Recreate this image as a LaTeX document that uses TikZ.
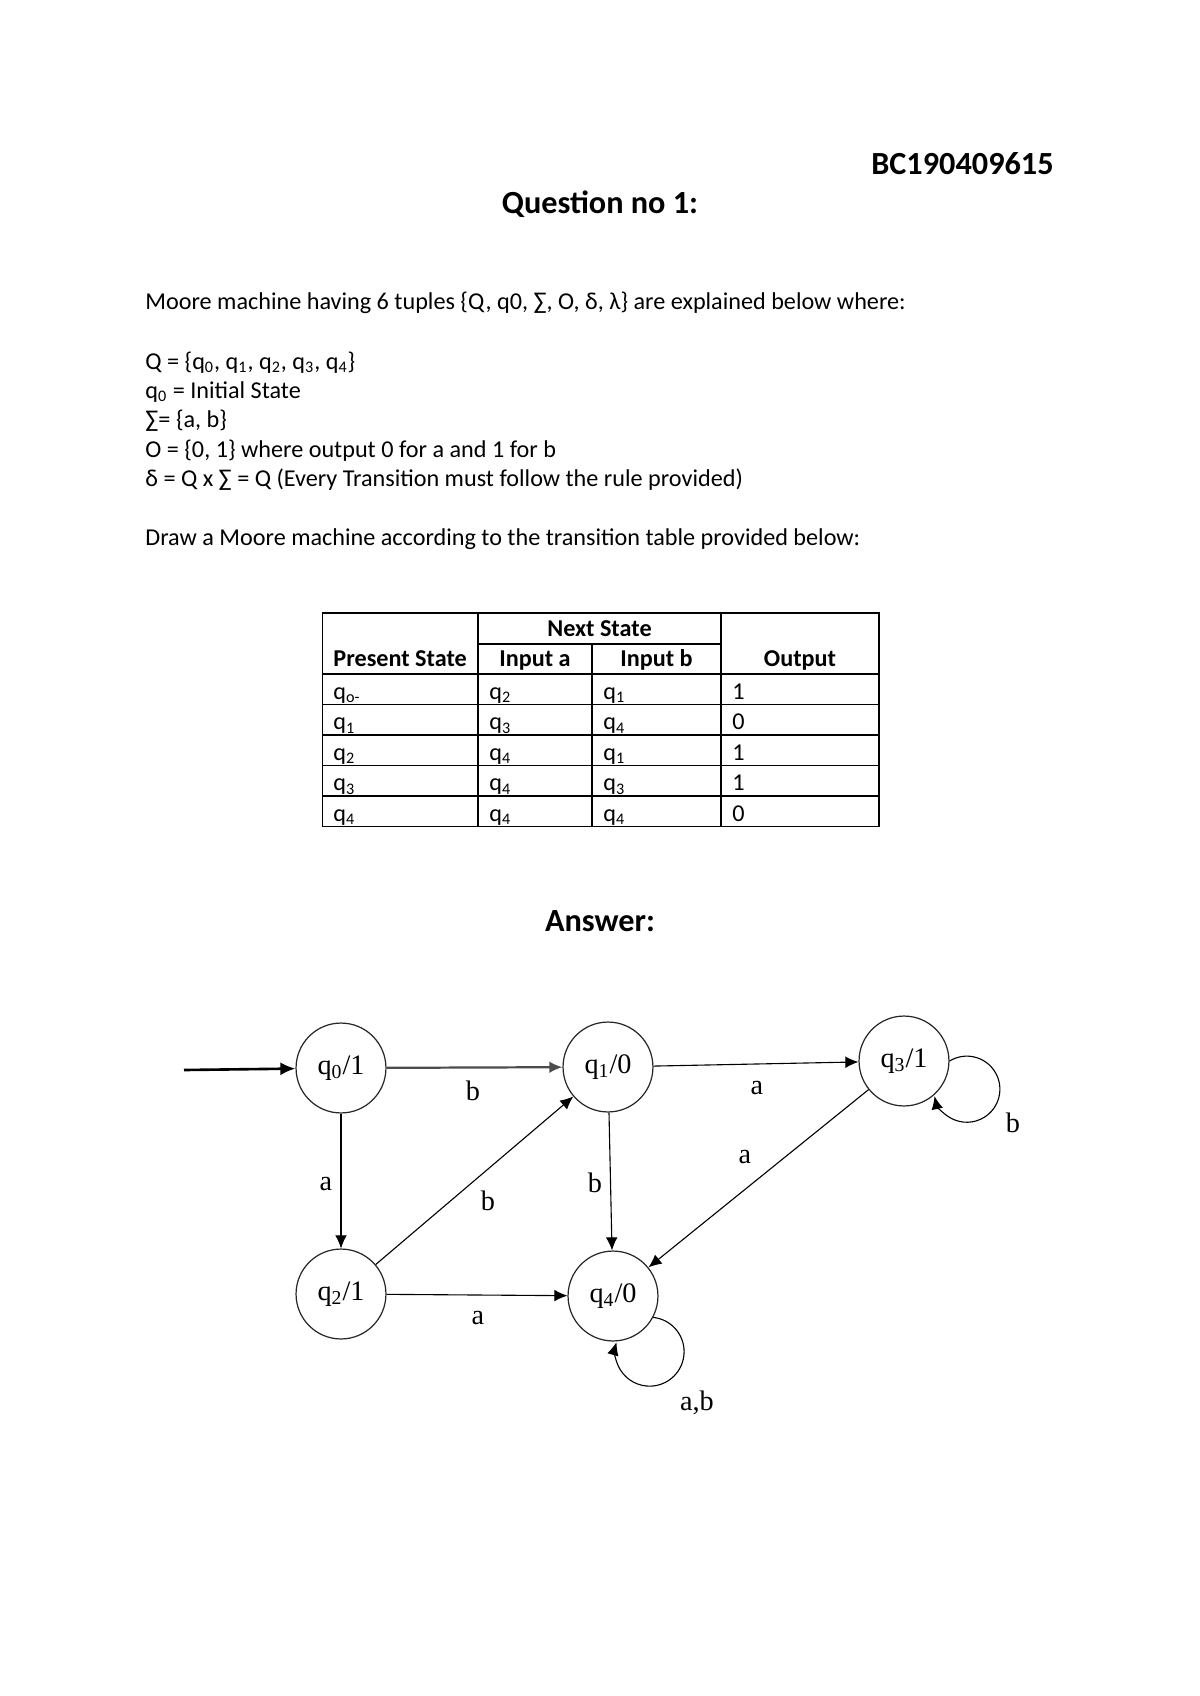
\documentclass[tikz,border=0pt]{standalone}
\usepackage{fontspec}
\setmainfont{Carlito}
\newfontfamily\diagserif{Liberation Serif}
\usetikzlibrary{arrows.meta}
\tikzset{
  tbody/.style={font=\fontsize{12}{14.6}\selectfont, inner sep=0pt, anchor=base west},
  thead/.style={font=\bfseries\fontsize{16}{19.5}\selectfont, inner sep=0pt},
  tcell/.style={font=\fontsize{12}{14.6}\selectfont, inner sep=0pt, anchor=base west},
  thcell/.style={font=\bfseries\fontsize{12}{14.6}\selectfont, inner sep=0pt, anchor=base},
  tline/.style={line width=0.8pt},
  mstate/.style={circle, draw=black!85, line width=0.6pt, minimum size=44.6pt, inner sep=0pt, font=\diagserif\fontsize{14}{16}\selectfont},
  arr/.style={-{Latex[length=6.5pt,width=5.8pt]}, line width=0.55pt},
  lbl/.style={font=\diagserif\fontsize{14}{16}\selectfont, inner sep=0pt},
}
\begin{document}
\begin{tikzpicture}[x=0.49606pt,y=-0.49606pt]
\useasboundingbox (0,0) rectangle (1200,1696);

% headings
\node[thead, anchor=base east] (id) at (1054,174) {BC190409615};
\node[thead, anchor=base] (title) at (600,213) {Question no 1:};

% body text
\node[tbody] (l1) at (145,309.5) {Moore machine having 6 tuples \{Q, q0, ∑, O, δ, λ\} are explained below where:};
\node[tbody] (l2) at (145,369) {Q = \{q\textsubscript{0}, q\textsubscript{1}, q\textsubscript{2}, q\textsubscript{3}, q\textsubscript{4}\}};
\node[tbody] (l3) at (145,398) {q\textsubscript{0} = Initial State};
\node[tbody] (l4) at (145,427.5) {∑= \{a, b\}};
\node[tbody] (l5) at (145,457) {O = \{0, 1\} where output 0 for a and 1 for b};
\node[tbody] (l6) at (145,486) {δ = Q x ∑ = Q (Every Transition must follow the rule provided)};
\node[tbody] (l7) at (145,545.5) {Draw a Moore machine according to the transition table provided below:};

% table grid
\draw[tline] (322.5,613) rectangle (879,826.5);
\draw[tline] (478,613) -- (478,826.5);
\draw[tline] (721,613) -- (721,826.5);
\draw[tline] (592,644) -- (592,826.5);
\draw[tline] (478,644) -- (721,644);
\foreach \yy in {674,704.5,735,765.5,796} \draw[tline] (322.5,\yy) -- (879,\yy);

% table header
\node[thcell] (hns) at (599.5,636) {Next State};
\node[thcell, anchor=base west] (hps) at (333,666) {Present State};
\node[thcell] (hia) at (535,666) {Input a};
\node[thcell] (hib) at (656.5,666) {Input b};
\node[thcell] (hout) at (800,666) {Output};

% table rows
\node[tcell] (r1a) at (333,699) {q\textsubscript{o-}};
\node[tcell] (r1b) at (489,699) {q\textsubscript{2}};
\node[tcell] (r1c) at (603,699) {q\textsubscript{1}};
\node[tcell] (r1d) at (732,699) {1};
\node[tcell] (r2a) at (333,729.5) {q\textsubscript{1}};
\node[tcell] (r2b) at (489,729.5) {q\textsubscript{3}};
\node[tcell] (r2c) at (603,729.5) {q\textsubscript{4}};
\node[tcell] (r2d) at (732,729.5) {0};
\node[tcell] (r3a) at (333,760) {q\textsubscript{2}};
\node[tcell] (r3b) at (489,760) {q\textsubscript{4}};
\node[tcell] (r3c) at (603,760) {q\textsubscript{1}};
\node[tcell] (r3d) at (732,760) {1};
\node[tcell] (r4a) at (333,790.5) {q\textsubscript{3}};
\node[tcell] (r4b) at (489,790.5) {q\textsubscript{4}};
\node[tcell] (r4c) at (603,790.5) {q\textsubscript{3}};
\node[tcell] (r4d) at (732,790.5) {1};
\node[tcell] (r5a) at (333,821) {q\textsubscript{4}};
\node[tcell] (r5b) at (489,821) {q\textsubscript{4}};
\node[tcell] (r5c) at (603,821) {q\textsubscript{4}};
\node[tcell] (r5d) at (732,821) {0};

% answer
\node[thead, anchor=base] (answer) at (600,931) {Answer:};

% states
\node[mstate] (q0) at (341,1068) {q\textsubscript{0}/1};
\node[mstate] (q1) at (608,1067) {q\textsubscript{1}/0};
\node[mstate] (q3) at (904,1061) {q\textsubscript{3}/1};
\node[mstate] (q2) at (341,1294) {q\textsubscript{2}/1};
\node[mstate] (q4) at (613,1296) {q\textsubscript{4}/0};
\coordinate (init) at (184,1070);

% transitions
\draw[-{Latex[length=7.5pt,width=6.5pt]}, line width=1.3pt] (init) -- (q0);
\draw[arr, line width=1.1pt, draw=black!70, fill=black] (q0) -- (q1);
\draw[arr] (q1) -- (q3);
\draw[arr] (q0) -- (q2);
\draw[arr] (q2) -- (q1);
\draw[arr] (q1) -- (q4);
\draw[arr] (q3) -- (q4);
\draw[arr] (q2) -- (q4);
\draw[arr] (q3.east) arc[start angle=121.5, end angle=-168, radius=16.4pt];
\draw[arr] (q4.-28) arc[start angle=84, end angle=-196, radius=17.1pt];

% labels
\node[lbl] (lb01) at (473,1091) {b};
\node[lbl] (lb13) at (757,1088) {a};
\node[lbl] (lb33) at (1013,1123) {b};
\node[lbl] (lb02) at (326,1184) {a};
\node[lbl] (lb21) at (488,1201) {b};
\node[lbl] (lb14) at (595,1183) {b};
\node[lbl] (lb34) at (745,1157) {a};
\node[lbl] (lb24) at (478,1318) {a};
\node[lbl] (lb44) at (697,1403) {a,b};
\end{tikzpicture}
\end{document}
